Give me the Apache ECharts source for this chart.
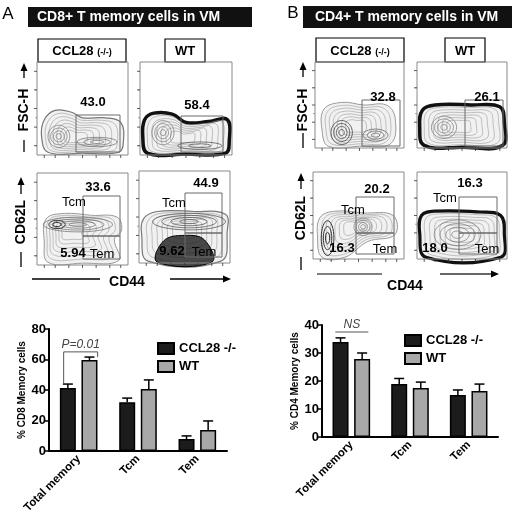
<!DOCTYPE html>
<html><head><meta charset="utf-8">
<script src="https://cdn.jsdelivr.net/npm/echarts@6/dist/echarts.min.js"></script>
<style>html,body{margin:0;padding:0;background:#fff}#c{width:520px;height:517px}</style>
</head><body><div id="c"></div>
<script>
// ---- data ----
const categories = ['Total memory', 'Tcm', 'Tem'];
const cd8Ccl28 = [41.3, 32.0, 7.9];
const cd8Ccl28Err = [2.6, 2.7, 2.0];
const cd8Wt = [59.7, 40.7, 13.8];
const cd8WtErr = [1.9, 5.9, 5.9];
const cd4Ccl28 = [33.9, 18.9, 15.0];
const cd4Ccl28Err = [1.5, 2.0, 1.8];
const cd4Wt = [27.9, 17.5, 16.4];
const cd4WtErr = [2.1, 2.1, 2.5];
const cd8Ticks = [0, 20, 40, 60, 80];
const cd4Ticks = [0, 10, 20, 30, 40];
const gateA = {fsc: ['43.0', '58.4'], tcm: ['33.6', '44.9'], tem: ['5.94', '9.62']};
const gateB = {fsc: ['32.8', '26.1'], tcm: ['20.2', '16.3'], tem: ['16.3', '18.0']};

const FONT = 'Arial, "Liberation Sans", sans-serif';
const chart = echarts.init(document.getElementById('c'), null, {renderer: 'canvas'});

// ---- decorative flow panels ----
const G = [];
function rect(x1, y1, x2, y2, stroke, lw, fill) {
  G.push({type: 'rect', shape: {x: x1, y: y1, width: x2 - x1, height: y2 - y1},
    style: {fill: fill || 'none', stroke: stroke, lineWidth: lw}, z: 10});
}
function line(x1, y1, x2, y2, stroke, lw) {
  G.push({type: 'line', shape: {x1, y1, x2, y2}, style: {stroke: stroke, lineWidth: lw}, z: 10});
}
function text(x, y, t, font, opt) {
  opt = opt || {};
  G.push({type: 'text', x: x, y: y, rotation: opt.rot || 0, z: 12,
    style: Object.assign({text: t, font: font, fill: opt.fill || '#000',
      align: opt.align || 'center', verticalAlign: 'middle'}, opt.style || {})});
}
function arrowHead(x, y, dir) {
  let pts;
  if (dir === 'up') pts = [[x - 3.5, y + 8], [x + 3.5, y + 8], [x, y]];
  else pts = [[x - 8, y - 3.5], [x - 8, y + 3.5], [x, y]];
  G.push({type: 'polygon', shape: {points: pts}, style: {fill: '#000'}, z: 10});
}
function toPx(p, f) { return [p[0] + f[0] * (p[2] - p[0]), p[1] + f[1] * (p[3] - p[1])]; }
function rings(p, pts, c, scales, stroke, lw, outerStroke, outerLw) {
  scales.forEach((s, i) => {
    const pp = pts.map(q => toPx(p, [c[0] + (q[0] - c[0]) * s, c[1] + (q[1] - c[1]) * s]));
    G.push({type: 'polygon', shape: {points: pp, smooth: 0.4},
      style: {fill: i === 0 ? 'rgba(200,200,200,0.25)' : 'none',
        stroke: i === 0 ? outerStroke : stroke, lineWidth: i === 0 ? outerLw : lw}, z: 8});
  });
}
function ell(p, c, rx, ry, n, stroke, lw) {
  const w = p[2] - p[0], h = p[3] - p[1];
  for (let i = 1; i <= n; i++) {
    const k = i / n;
    const cc = toPx(p, c);
    G.push({type: 'ellipse', shape: {cx: cc[0], cy: cc[1], rx: rx * w * k, ry: ry * h * k},
      style: {fill: 'none', stroke: stroke, lineWidth: lw}, z: 9});
  }
}
function frame(p) {
  rect(p[0], p[1], p[2], p[3], '#8a8a8a', 1);
  [0.1, 0.3, 0.5, 0.7, 0.9].forEach(f => {
    const y = p[1] + f * (p[3] - p[1]);
    line(p[0] - 3, y, p[0], y, '#333', 0.8);
  });
  [0.2, 0.5, 0.8].forEach(f => { line(p[0] - 2, p[1] + (f + 0.1) * (p[3] - p[1]), p[0], p[1] + (f + 0.1) * (p[3] - p[1]), '#666', 0.6); });
  [0.08, 0.2, 0.35, 0.5, 0.65, 0.8, 0.92].forEach(f => {
    const x = p[0] + f * (p[2] - p[0]);
    line(x, p[3], x, p[3] + 3, '#333', 0.8);
  });
}
const ring7 = [1, 0.88, 0.76, 0.64, 0.52, 0.4, 0.28];

// Panel letters and headers
text(8, 14, 'A', '17px ' + FONT);
text(293, 13, 'B', '17px ' + FONT);
rect(28, 7, 252, 27, '#000', 0, '#111');
text(37, 17.5, 'CD8+ T memory cells in VM', 'bold 14px ' + FONT, {fill: '#fff', align: 'left'});
rect(303, 6, 512, 28, '#000', 0, '#111');
text(315, 17.5, 'CD4+ T memory cells in VM', 'bold 14px ' + FONT, {fill: '#fff', align: 'left'});

// Genotype label boxes
function geno(x1, x2, y1, y2, isKO) {
  rect(x1, y1, x2, y2, '#000', 1.2, '#fff');
  if (isKO) text((x1 + x2) / 2, (y1 + y2) / 2 + 1, '{a|CCL28} {b|(-/-)}', 'bold 13px ' + FONT,
    {style: {rich: {a: {font: 'bold 13px ' + FONT, fill: '#000'}, b: {font: 'bold 9px ' + FONT, fill: '#000', padding: [3, 0, 0, 0]}}}});
  else text((x1 + x2) / 2, (y1 + y2) / 2 + 1, 'WT', 'bold 13px ' + FONT);
}
geno(38, 126, 39, 62, true); geno(165, 205, 39, 62, false);
geno(316, 404, 38, 62, true); geno(445, 485, 38, 62, false);

const P = {
  a1: [37, 62, 128, 155], a2: [140, 62, 232, 155], a3: [37, 173, 128, 265], a4: [139, 171, 230, 263],
  b1: [315, 62, 404, 148], b2: [417, 62, 507, 148], b3: [313, 172, 404, 259], b4: [417, 172, 507, 259]
};

// contours (decorative)
rings(P.a1, [[0.08,0.62],[0.2,0.52],[0.38,0.54],[0.5,0.6],[0.75,0.6],[0.92,0.65],[0.95,0.85],[0.9,0.97],[0.5,0.98],[0.12,0.97],[0.05,0.8]], [0.4,0.82], ring7, '#9a9a9a', 0.6, '#777', 1.2);
ell(P.a1, [0.24,0.8], 0.12, 0.12, 4, '#777', 0.7);
ell(P.a1, [0.66,0.86], 0.22, 0.05, 3, '#666', 0.7);
rings(P.a2, [[0.05,0.62],[0.15,0.55],[0.35,0.56],[0.5,0.65],[0.75,0.64],[0.95,0.62],[0.97,0.85],[0.93,0.98],[0.5,0.99],[0.08,0.98],[0.03,0.8]], [0.45,0.82], ring7, '#9a9a9a', 0.6, '#111', 3.5);
ell(P.a2, [0.25,0.76], 0.12, 0.13, 4, '#777', 0.7);
ell(P.a2, [0.65,0.9], 0.24, 0.04, 2, '#555', 0.8);
rings(P.a3, [[0.1,0.5],[0.3,0.44],[0.6,0.46],[0.88,0.48],[0.93,0.62],[0.85,0.72],[0.9,0.95],[0.5,0.98],[0.12,0.97],[0.08,0.75]], [0.35,0.62], ring7, '#9a9a9a', 0.6, '#999', 1);
ell(P.a3, [0.45,0.56], 0.38, 0.08, 4, '#666', 0.7);
ell(P.a3, [0.22,0.56], 0.09, 0.045, 2, '#333', 1);
rings(P.a4, [[0.05,0.52],[0.2,0.44],[0.6,0.44],[0.95,0.47],[0.97,0.65],[0.9,0.98],[0.1,0.98],[0.03,0.7]], [0.5,0.62], ring7, '#9a9a9a', 0.6, '#777', 1.2);
ell(P.a4, [0.55,0.55], 0.4, 0.09, 4, '#555', 0.8);
G.push({type: 'polygon', shape: {points: [[0.2,0.99],[0.27,0.76],[0.5,0.7],[0.72,0.75],[0.8,0.99]].map(q => toPx(P.a4, q)), smooth: 0.4},
  style: {fill: 'rgba(30,30,30,0.8)', stroke: '#000', lineWidth: 1}, z: 9});
rings(P.b1, [[0.1,0.55],[0.3,0.47],[0.55,0.5],[0.8,0.5],[0.9,0.65],[0.85,0.95],[0.5,0.98],[0.15,0.98],[0.08,0.8]], [0.45,0.75], ring7, '#9a9a9a', 0.6, '#999', 1);
ell(P.b1, [0.3,0.82], 0.12, 0.14, 4, '#555', 0.9);
ell(P.b1, [0.68,0.85], 0.14, 0.07, 3, '#666', 0.8);
rings(P.b2, [[0.06,0.56],[0.2,0.5],[0.6,0.5],[0.92,0.52],[0.97,0.7],[0.95,0.97],[0.5,0.99],[0.08,0.97],[0.03,0.75]], [0.45,0.75], ring7, '#9a9a9a', 0.6, '#111', 3.5);
ell(P.b2, [0.3,0.76], 0.14, 0.13, 4, '#777', 0.7);
rings(P.b3, [[0.08,0.52],[0.25,0.45],[0.55,0.47],[0.88,0.5],[0.9,0.72],[0.6,0.8],[0.35,0.98],[0.1,0.98],[0.05,0.75]], [0.45,0.62], ring7, '#9a9a9a', 0.6, '#999', 1);
ell(P.b3, [0.16,0.76], 0.07, 0.2, 3, '#333', 1);
ell(P.b3, [0.55,0.63], 0.1, 0.1, 4, '#777', 0.7);
rings(P.b4, [[0.05,0.5],[0.2,0.45],[0.7,0.46],[0.93,0.5],[0.97,0.7],[0.93,0.98],[0.1,0.98],[0.03,0.7]], [0.5,0.72], ring7, '#9a9a9a', 0.6, '#111', 3.2);
ell(P.b4, [0.45,0.72], 0.26, 0.17, 4, '#777', 0.7);

Object.keys(P).forEach(k => frame(P[k]));

// gates and numbers
const gray = '#6a6a6a';
rect(76, 115, 120, 152, gray, 1); rect(181, 116, 223, 152, gray, 1);
text(93, 102, gateA.fsc[0], 'bold 13px ' + FONT); text(197, 105, gateA.fsc[1], 'bold 13px ' + FONT);
rect(83, 196, 120, 236, gray, 1); rect(83, 236, 120, 259, gray, 1);
text(98, 187, gateA.tcm[0], 'bold 13px ' + FONT); text(74, 202, 'Tcm', '13px ' + FONT);
text(73, 253, gateA.tem[0], 'bold 13px ' + FONT); text(102, 254, 'Tem', '13px ' + FONT);
rect(185, 193, 222, 233, gray, 1); rect(185, 233, 222, 257, gray, 1);
text(206, 183, gateA.tcm[1], 'bold 13px ' + FONT); text(174, 203, 'Tcm', '13px ' + FONT);
text(172, 251, gateA.tem[1], 'bold 13px ' + FONT); text(204, 252, 'Tem', '13px ' + FONT);

rect(362, 100, 400, 146, gray, 1); rect(465, 100, 503, 146, gray, 1);
text(383, 97, gateB.fsc[0], 'bold 13px ' + FONT); text(487, 97, gateB.fsc[1], 'bold 13px ' + FONT);
rect(356, 197, 394, 233, gray, 1); rect(356, 233, 394, 254, gray, 1);
text(377, 189, gateB.tcm[0], 'bold 13px ' + FONT); text(353, 210, 'Tcm', '13px ' + FONT);
text(342, 248, gateB.tem[0], 'bold 13px ' + FONT); text(385, 249, 'Tem', '13px ' + FONT);
rect(459, 197, 497, 233, gray, 1); rect(459, 233, 497, 254, gray, 1);
text(470, 183, gateB.tcm[1], 'bold 13px ' + FONT); text(445, 198, 'Tcm', '13px ' + FONT);
text(435, 248, gateB.tem[1], 'bold 13px ' + FONT); text(487, 249, 'Tem', '13px ' + FONT);

// axis labels with arrows
function vAxis(x, yHead, yLineEnd, yText, yLow1, yLow2, label) {
  arrowHead(x, yHead, 'up'); line(x, yHead + 6, x, yLineEnd, '#000', 1.3);
  text(x, yText, label, 'bold 14px ' + FONT, {rot: Math.PI / 2});
  line(x, yLow1, x, yLow2, '#000', 1.3);
}
vAxis(24, 63, 78, 110, 140, 152, 'FSC-H');
vAxis(21, 177, 194, 222, 252, 267, 'CD62L');
vAxis(303, 62, 77, 110, 133, 148, 'FSC-H');
vAxis(301, 173, 189, 218, 257, 270, 'CD62L');
line(32, 279, 100, 279, '#000', 1.3); text(127, 282, 'CD44', 'bold 14px ' + FONT);
line(170, 279, 224, 279, '#000', 1.3); arrowHead(231, 279, 'right');
line(317, 274, 382, 274, '#555', 1.5); text(405, 286, 'CD44', 'bold 14px ' + FONT);
line(440, 274, 492, 274, '#333', 1.5); arrowHead(499, 274, 'right');

// ---- bar charts ----
const BW = 16, GAP = 0.35, OFF = (BW + BW * GAP) / 2;
function errSeries(xi, yi, vals, errs, side) {
  return {
    type: 'custom', xAxisIndex: xi, yAxisIndex: yi, z: 5, silent: true,
    data: vals.map((v, i) => [i, v, errs[i]]),
    renderItem: function (params, api) {
      const i = api.value(0), v = api.value(1), e = api.value(2);
      const p = api.coord([i, v]), t = api.coord([i, v + e]);
      const x = p[0] + side * OFF;
      return {type: 'group', children: [
        {type: 'line', shape: {x1: x, y1: p[1], x2: x, y2: t[1]}, style: {stroke: '#000', lineWidth: 1.5}},
        {type: 'line', shape: {x1: x - 5, y1: t[1], x2: x + 5, y2: t[1]}, style: {stroke: '#000', lineWidth: 1.5}}
      ]};
    }
  };
}
function bar(xi, yi, name, vals, color) {
  return {type: 'bar', name: name, xAxisIndex: xi, yAxisIndex: yi, data: vals, barWidth: BW, barGap: (GAP * 100) + '%',
    itemStyle: {color: color, borderColor: '#000', borderWidth: 1.5}, z: 3};
}
function sigSeries(xi, yi, yv, yLeftBot, yRightBot, x1off, x2off, label) {
  return {type: 'custom', xAxisIndex: xi, yAxisIndex: yi, z: 6, silent: true, data: [[0, yv]],
    renderItem: function (params, api) {
      const c = api.coord([0, yv]);
      const ch = [{type: 'line', shape: {x1: c[0] + x1off, y1: c[1], x2: c[0] + x2off, y2: c[1]}, style: {stroke: '#555', lineWidth: 1}},
        {type: 'text', x: c[0] + (x1off + x2off) / 2, y: c[1] - 7, style: {text: label, font: 'italic 12px ' + FONT, fill: '#444', align: 'center', verticalAlign: 'middle'}}];
      if (yLeftBot !== null) {
        const b = api.coord([0, yLeftBot]);
        ch.push({type: 'line', shape: {x1: c[0] + x1off, y1: c[1], x2: c[0] + x1off, y2: b[1]}, style: {stroke: '#555', lineWidth: 1}});
      }
      if (yRightBot !== null) {
        const b = api.coord([0, yRightBot]);
        ch.push({type: 'line', shape: {x1: c[0] + x2off, y1: c[1], x2: c[0] + x2off, y2: b[1]}, style: {stroke: '#555', lineWidth: 1}});
      }
      return {type: 'group', children: ch};
    }};
}
function xAx(gi) {
  return {type: 'category', gridIndex: gi, data: categories,
    axisLine: {lineStyle: {color: '#000', width: 2}},
    axisTick: {alignWithLabel: true, length: 4, lineStyle: {color: '#000', width: 1.5}},
    axisLabel: {rotate: 45, color: '#000', fontWeight: 'bold', fontSize: 11.5, fontFamily: FONT, margin: 6, interval: 0}};
}
function yAx(gi, ticks, name) {
  return {type: 'value', gridIndex: gi, min: ticks[0], max: ticks[ticks.length - 1], interval: ticks[1] - ticks[0],
    name: name, nameLocation: 'middle', nameGap: 19,
    nameTextStyle: {color: '#000', fontWeight: 'bold', fontSize: 10, fontFamily: FONT},
    axisLine: {show: true, lineStyle: {color: '#000', width: 2}},
    axisTick: {show: true, length: 4, lineStyle: {color: '#000', width: 1.5}},
    splitLine: {show: false},
    axisLabel: {color: '#000', fontWeight: 'bold', fontSize: 13, fontFamily: FONT, margin: 3}};
}
const legendBase = {orient: 'vertical', icon: 'rect', itemWidth: 16, itemHeight: 11, itemGap: 5,
  textStyle: {color: '#000', fontWeight: 'bold', fontSize: 13, fontFamily: FONT}, data: ['CCL28 -/-', 'WT'], selectedMode: false};

chart.setOption({
  animation: false,
  grid: [{left: 49, top: 329, width: 178, height: 122}, {left: 322, top: 325, width: 176, height: 112}],
  xAxis: [xAx(0), xAx(1)],
  yAxis: [yAx(0, cd8Ticks, '% CD8 Memory cells'), yAx(1, cd4Ticks, '% CD4 Memory cells')],
  legend: [Object.assign({left: 152, top: 337}, legendBase), Object.assign({left: 399, top: 329}, legendBase)],
  series: [
    bar(0, 0, 'CCL28 -/-', cd8Ccl28, '#1c1c1c'), bar(0, 0, 'WT', cd8Wt, '#a8a8a8'),
    errSeries(0, 0, cd8Ccl28, cd8Ccl28Err, -1), errSeries(0, 0, cd8Wt, cd8WtErr, 1),
    bar(1, 1, 'CCL28 -/-', cd4Ccl28, '#1c1c1c'), bar(1, 1, 'WT', cd4Wt, '#a8a8a8'),
    errSeries(1, 1, cd4Ccl28, cd4Ccl28Err, -1), errSeries(1, 1, cd4Wt, cd4WtErr, 1),
    sigSeries(0, 0, 65, 44.6, 61.6, -15, 19, 'P=0.01'),
    sigSeries(1, 1, 37.5, null, null, -16, 17, 'NS')
  ],
  graphic: G
});
</script></body></html>
